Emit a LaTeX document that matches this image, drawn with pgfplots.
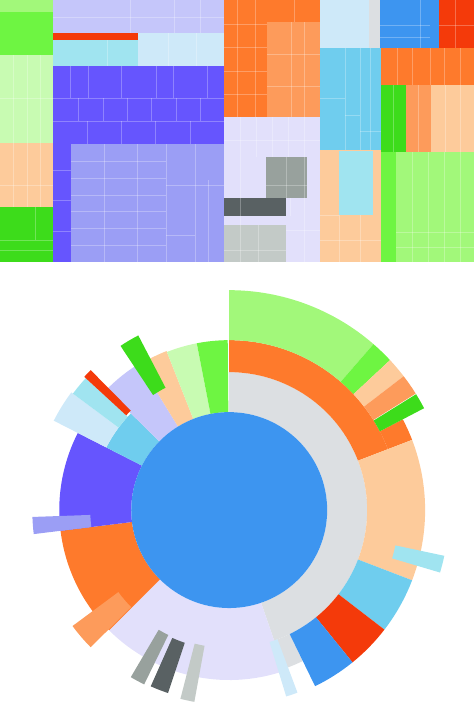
\documentclass[border=0pt]{standalone}
\usepackage{pgfplots}
\usepackage{pgfplotstable}
\pgfplotsset{compat=1.18}

\definecolor{cBlue}{RGB}{61,149,240}
\definecolor{cGray}{RGB}{220,223,226}
\definecolor{cOrange}{RGB}{254,122,44}
\definecolor{cLGreen}{RGB}{162,248,122}
\definecolor{cBGreen}{RGB}{110,245,66}
\definecolor{cPeach}{RGB}{253,203,155}
\definecolor{cSalmon}{RGB}{253,155,91}
\definecolor{cGreen}{RGB}{61,220,27}
\definecolor{cCyan}{RGB}{160,228,240}
\definecolor{cLBlue}{RGB}{111,205,238}
\definecolor{cRed}{RGB}{244,58,10}
\definecolor{cPBlue}{RGB}{206,233,249}
\definecolor{cLav}{RGB}{226,224,251}
\definecolor{cSlateA}{RGB}{152,161,157}
\definecolor{cSlateB}{RGB}{89,97,99}
\definecolor{cSlateC}{RGB}{195,202,199}
\definecolor{cPurple}{RGB}{102,85,254}
\definecolor{cLavPurple}{RGB}{155,158,245}
\definecolor{cLavBlue}{RGB}{197,198,250}
\definecolor{cPGreen}{RGB}{200,251,178}

% sunburst sectors: start angle, end angle, inner radius, outer radius, colour
\pgfplotstableread{
a1 a2 ri ro c
-71 90 98 138 cGray
-71 -64 138 168 cGray
21 90 138 170 cOrange
21 27.6 170 196 cOrange
49 90 170 220 cLGreen
43 49 170 220 cBGreen
37.5 43 170 220 cPeach
32 37.5 170 220 cSalmon
27.6 31.8 170 220 cGreen
-21 21 138 196 cPeach
-37.6 -21 138 196 cLBlue
-51 -37.6 138 196 cRed
-64 -51 138 196 cBlue
-135 -71 98 170 cLav
-173 -135 98 170 cOrange
153 187 98 170 cPurple
135.5 153 98 138 cLBlue
143.3 153 138 197 cPBlue
137.4 143.3 138 195 cCyan
121.5 135.5 98 172 cLavBlue
111.5 121.5 98 171 cPeach
101 111.5 98 170 cPGreen
90.5 101 98 170 cBGreen
-16.5 -12 170 220 cCyan
-73 -69.5 138 195 cPBlue
-104.5 -100.3 138 195 cSlateC
-114 -108.5 140 193 cSlateB
-120.5 -116 139 194 cSlateA
-143.5 -135.3 138 195 cSalmon
182 187 139 197 cLavPurple
134.7 137.4 140 197 cRed
117.5 123.5 138 197 cGreen
}\sunburst

\newcommand\rect[5]{\addplot[fill=#5, draw=none] coordinates {(#1,#2) (#3,#2) (#3,#4) (#1,#4)} --cycle;}
\newcommand\hl[3]{\addplot[draw=white, draw opacity=0.27, line width=0.6pt] coordinates {(#1,#3) (#2,#3)};}
\newcommand\vl[3]{\addplot[draw=white, draw opacity=0.27, line width=0.6pt] coordinates {(#1,#2) (#1,#3)};}

\begin{document}
\begin{tikzpicture}
\begin{axis}[
  scale only axis, width=474pt, height=704pt,
  xmin=0, xmax=474, ymin=0, ymax=704, y dir=reverse,
  hide axis, clip=false,
]
\path (axis cs:0,0) rectangle (axis cs:474,704);
% ---------------- treemap ----------------
\rect{0}{0}{53}{12}{cLGreen}
\rect{0}{12}{53}{55}{cBGreen}
\rect{0}{55}{53}{143}{cPGreen}
\rect{0}{143}{53}{207}{cPeach}
\rect{0}{207}{53}{262}{cGreen}
\rect{53}{0}{224}{33}{cLavBlue}
\rect{53}{33}{138}{40}{cRed}
\rect{53}{40}{138}{66}{cCyan}
\rect{138}{33}{224}{66}{cPBlue}
\rect{53}{66}{224}{144}{cPurple}
\rect{53}{144}{71}{262}{cPurple}
\rect{71}{144}{224}{262}{cLavPurple}
\rect{224}{0}{267}{117}{cOrange}
\rect{267}{0}{320}{22}{cOrange}
\rect{267}{22}{320}{117}{cSalmon}
\rect{224}{117}{320}{262}{cLav}
\rect{266}{157}{307}{198}{cSlateA}
\rect{224}{198}{286}{216}{cSlateB}
\rect{224}{225}{286}{262}{cSlateC}
\rect{320}{0}{369}{48}{cPBlue}
\rect{369}{0}{380}{48}{cGray}
\rect{320}{48}{381}{150}{cLBlue}
\rect{320}{150}{381}{262}{cPeach}
\rect{339}{151}{373}{215}{cCyan}
\rect{380}{0}{439}{48}{cBlue}
\rect{439}{0}{474}{48}{cRed}
\rect{381}{48}{474}{85}{cOrange}
\rect{381}{85}{406}{152}{cGreen}
\rect{406}{85}{431}{152}{cSalmon}
\rect{431}{85}{474}{152}{cPeach}
\rect{381}{152}{396}{262}{cBGreen}
\rect{396}{152}{474}{262}{cLGreen}
% faint cell borders
\hl{53}{224}{98}\hl{53}{224}{121}
\vl{70}{66}{98}\vl{88}{66}{98}\vl{121}{66}{98}\vl{156}{66}{98}\vl{173}{66}{98}\vl{207}{66}{98}
\vl{78}{98}{121}\vl{103}{98}{121}\vl{127}{98}{121}\vl{151}{98}{121}\vl{176}{98}{121}\vl{200}{98}{121}
\vl{87}{121}{144}\vl{121}{121}{144}\vl{155}{121}{144}\vl{190}{121}{144}
\hl{53}{71}{170}\hl{53}{71}{200}\hl{53}{71}{231}
\hl{71}{166}{161}\hl{71}{166}{178}\hl{71}{166}{195}\hl{71}{166}{211}\hl{71}{166}{228}\hl{71}{166}{245}
\vl{104}{144}{262}\vl{137}{144}{262}\vl{166}{144}{262}\vl{195}{144}{262}\vl{208}{180}{262}
\hl{166}{224}{185}\hl{166}{195}{235}
\vl{240}{117}{262}\vl{256}{117}{157}\vl{272}{117}{157}\vl{288}{117}{157}\vl{304}{117}{262}
\hl{224}{320}{140}\hl{286}{320}{230}
\vl{412}{152}{262}\vl{428}{152}{262}\vl{444}{152}{262}\vl{460}{152}{262}\hl{396}{474}{232}\hl{396}{474}{247}
\hl{320}{339}{215}\hl{320}{381}{240}\vl{339}{215}{262}\vl{360}{215}{262}
\vl{345}{48}{150}\vl{360}{48}{150}\vl{370}{48}{150}\hl{320}{345}{98}\hl{345}{360}{115}\hl{360}{381}{131}
\vl{13}{55}{207}\vl{27}{55}{207}\vl{40}{55}{207}\hl{0}{53}{98}\hl{0}{53}{185}
\vl{35}{207}{240}\hl{0}{53}{240}\hl{0}{53}{250}
\vl{237}{0}{117}\vl{255}{0}{117}\hl{224}{267}{24}\hl{224}{267}{47}\hl{224}{267}{71}\hl{224}{267}{94}
\vl{291}{22}{117}\vl{304}{22}{117}\hl{267}{320}{54}\hl{267}{320}{86}\vl{294}{0}{22}
\vl{107}{40}{66}\vl{168}{33}{66}\vl{196}{33}{66}\vl{130}{0}{33}\vl{174}{0}{33}\vl{200}{0}{33}\hl{53}{224}{17}
\vl{397}{48}{85}\vl{412}{48}{85}\vl{430}{48}{85}\vl{444}{48}{85}\vl{460}{48}{85}
\vl{420}{0}{48}\hl{380}{430}{25}\hl{380}{430}{37}\vl{455}{0}{48}\hl{439}{474}{25}
\vl{393}{85}{152}\vl{418}{85}{152}\vl{445}{85}{152}\vl{460}{85}{152}
\vl{290}{198}{216}\vl{258}{225}{262}\hl{224}{286}{250}\vl{286}{157}{198}\hl{266}{307}{185}
% ---------------- sunburst ----------------
\pgfplotstablegetrowsof{\sunburst}
\pgfmathtruncatemacro{\lastrow}{\pgfplotsretval-1}
\pgfplotsforeachungrouped \i in {0,...,\lastrow}{%
  \pgfplotstablegetelem{\i}{a1}\of\sunburst \let\Aa\pgfplotsretval
  \pgfplotstablegetelem{\i}{a2}\of\sunburst \let\Ab\pgfplotsretval
  \pgfplotstablegetelem{\i}{ri}\of\sunburst \let\Ri\pgfplotsretval
  \pgfplotstablegetelem{\i}{ro}\of\sunburst \let\Ro\pgfplotsretval
  \pgfplotstablegetelem{\i}{c}\of\sunburst \let\Cc\pgfplotsretval
  \pgfmathsetmacro{\Dr}{\Ri-\Ro}%
  \edef\temp{\noexpand\fill[\Cc] (axis cs:229,510) ++(\Aa:\Ro pt) arc[start angle=\Aa, end angle=\Ab, radius=\Ro pt] -- ++(\Ab:\Dr pt) arc[start angle=\Ab, end angle=\Aa, radius=\Ri pt] -- cycle;}%
  \temp
}
\fill[cBlue] (axis cs:229,510) circle[radius=98pt];
\end{axis}
\end{tikzpicture}
\end{document}
